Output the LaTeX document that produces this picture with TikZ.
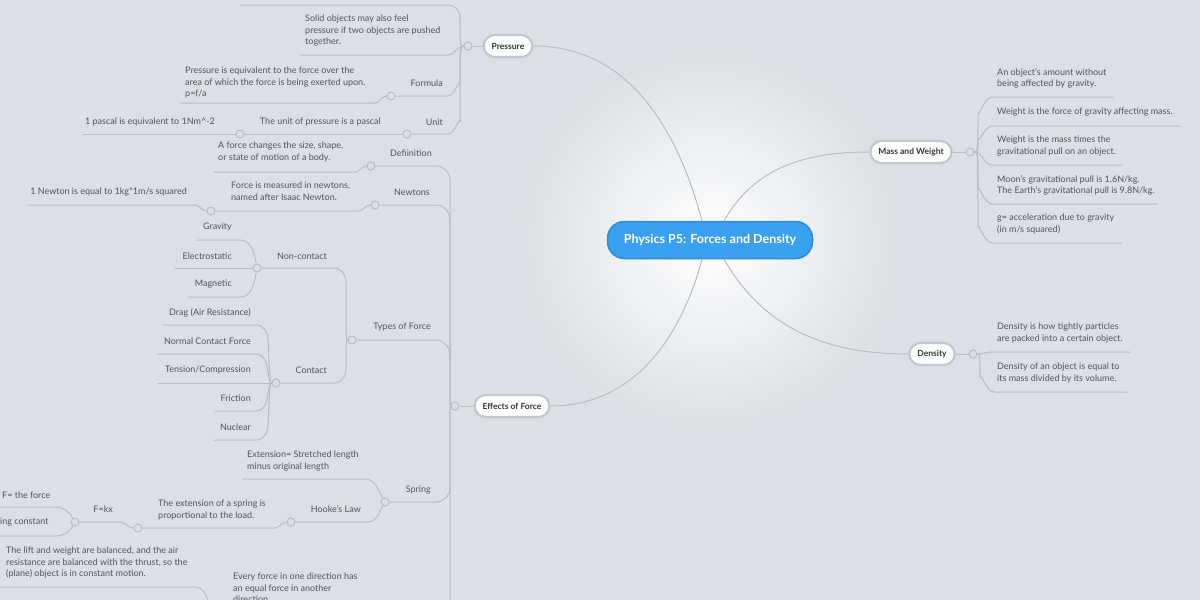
\documentclass[tikz,border=0pt]{standalone}
\usepackage{fontspec}
\setmainfont{Lato}
\begin{document}
\begin{tikzpicture}[x=1pt,y=-1pt,
  lk/.style={draw=lc,line width=1pt},
  jn/.style={circle,draw=lc,fill=bg,line width=1pt,inner sep=0pt,minimum size=8pt},
  tx/.style={font=\fontsize{9}{11.5}\selectfont,text=tc,inner sep=0pt,align=left},
  tr/.style={font=\fontsize{9}{11.5}\selectfont,text=tc,inner sep=0pt,anchor=east},
  topic/.style={rounded corners=11pt,draw=bd,line width=2.2pt,fill=white,font=\fontsize{8.5}{10}\selectfont\bfseries,text=black!80,minimum height=22pt,inner xsep=8pt}]
\definecolor{bg}{HTML}{DCDFE3}
\definecolor{lc}{HTML}{B9BCC0}
\definecolor{tc}{HTML}{505357}
\definecolor{bd}{HTML}{C3C6CA}
\useasboundingbox (0,0) rectangle (1200,600);
\fill[bg] (0,0) rectangle (1200,600);
\shade[inner color=white,outer color=bg] (710,240) circle (190);

% central and topics
\node[rounded corners=17pt,fill={rgb,255:red,58;green,160;blue,240},draw={rgb,255:red,45;green,140;blue,220},line width=1.5pt,minimum width=205pt,minimum height=37pt,text=white,font=\fontsize{12.5}{14}\selectfont\bfseries] (c) at (710,240) {Physics P5: Forces and Density};
\node[topic] (P) at (508,46) {Pressure};
\node[topic] (E) at (512,406) {Effects of Force};
\node[topic] (M) at (911,152) {Mass and Weight};
\node[topic] (D) at (932,354) {Density};
\draw[lk] (c.north) ++(-8,0) coordinate (c1) to[out=105,in=0] (P.east);
\draw[lk] (c.south) ++(-8,0) coordinate (c2) to[out=-105,in=0] (E.east);
\draw[lk] (c.north) ++(14,0) coordinate (c3) to[out=60,in=180] (M.west);
\draw[lk] (c.south) ++(14,0) coordinate (c4) to[out=-60,in=180] (D.west);

% Pressure
\node[jn] (pj) at (468,46) {};
\draw[lk] (P.west) -- (pj);
\draw[lk] (pj) .. controls (460,46) .. (460,17) to[out=90,in=0] (448,5) -- (240,5);
\node[tx,anchor=north west] (p1) at (305,15) {Solid objects may also feel\\pressure if two objects are pushed\\together.};
\draw[lk] (pj) to[out=180,in=0] (448,55) -- (300,55);
\node[tr] (pf) at (443,83) {Formula};
\node[jn] (pfj) at (391,96) {};
\draw[lk] (pj) .. controls (460,46) .. (460,84) to[out=90,in=0] (448,96) -- (pfj);
\node[tx,anchor=north west] (pf1) at (185,67) {Pressure is equivalent to the force over the\\area of which the force is being exerted upon.\\p=f/a};
\draw[lk] (pfj) to[out=180,in=0] (375,103) -- (180,103);
\node[tr] (pu) at (443,122) {Unit};
\node[jn] (puj) at (407,134) {};
\draw[lk] (pj) .. controls (460,46) .. (460,122) to[out=90,in=0] (448,134) -- (puj);
\node[tr] (pu1) at (381,122) {The unit of pressure is a pascal};
\node[jn] (pu1j) at (240,134) {};
\draw[lk] (puj) -- (pu1j);
\node[tr] (pu2) at (215,122) {1 pascal is equivalent to 1Nm\^{}-2};
\draw[lk] (pu1j) -- (83,134);

% Effects of Force
\node[jn] (ej) at (455,406) {};
\draw[lk] (E.west) -- (ej);
\draw[lk] (ej) .. controls (450,406) .. (450,600);
\node[tr] (ed) at (432,153) {Defiinition};
\node[jn] (edj) at (371,166) {};
\draw[lk] (ej) .. controls (450,406) .. (450,180) to[out=90,in=0] (436,166) -- (edj);
\node[tx,anchor=north west] (ed1) at (218,142) {A force changes the size, shape,\\or state of motion of a body.};
\draw[lk] (edj) to[out=180,in=0] (355,172) -- (213,172);
\node[tr] (en) at (430,192) {Newtons};
\node[jn] (enj) at (375,205) {};
\draw[lk] (ej) .. controls (450,406) .. (450,220) to[out=90,in=0] (436,205) -- (enj);
\node[tx,anchor=north west] (en1) at (231,182) {Force is measured in newtons,\\named after Isaac Newton.};
\node[jn] (en1j) at (211,211) {};
\draw[lk] (enj) to[out=180,in=0] (358,211) -- (en1j);
\node[tr] (en2) at (187,192) {1 Newton is equal to 1kg*1m/s squared};
\draw[lk] (en1j) to[out=180,in=0] (195,205) -- (28,205);
\node[tr] (et) at (431,327) {Types of Force};
\node[jn] (etj) at (352,340) {};
\draw[lk] (ej) .. controls (450,406) .. (450,356) to[out=90,in=0] (436,340) -- (etj);
\node[tr] (nc) at (327,256) {Non-contact};
\node[jn] (ncj) at (257,268) {};
\draw[lk] (etj) .. controls (346,340) .. (346,282) to[out=90,in=0] (334,268) -- (ncj);
\node[tr] (g1) at (232,227) {Gravity};
\draw[lk] (ncj) to[out=100,in=0] (240,240) -- (197,240);
\node[tr] (g2) at (232,256) {Electrostatic};
\draw[lk] (ncj) -- (175,268);
\node[tr] (g3) at (232,284) {Magnetic};
\draw[lk] (ncj) to[out=-100,in=0] (240,297) -- (188,297);
\node[tr] (ct) at (327,370) {Contact};
\node[jn] (ctj) at (276,383) {};
\draw[lk] (etj) .. controls (346,340) .. (346,370) to[out=-90,in=0] (334,383) -- (ctj);
\node[tr] (k1) at (251,313) {Drag (Air Resistance)};
\draw[lk] (ctj) .. controls (270,383) .. (268,340) to[out=90,in=0] (256,325) -- (162,325);
\node[tr] (k2) at (251,341) {Normal Contact Force};
\draw[lk] (ctj) .. controls (270,383) .. (267,366) to[out=100,in=0] (256,354) -- (157,354);
\node[tr] (k3) at (251,370) {Tension/Compression};
\draw[lk] (ctj) -- (158,383);
\node[tr] (k4) at (251,398) {Friction};
\draw[lk] (ctj) .. controls (270,383) .. (267,400) to[out=-100,in=0] (256,411) -- (215,411);
\node[tr] (k5) at (251,427) {Nuclear};
\draw[lk] (ctj) .. controls (270,383) .. (268,425) to[out=-90,in=0] (256,440) -- (214,440);
\node[tr] (es) at (431,490) {Spring};
\node[jn] (esj) at (385,502) {};
\draw[lk] (ej) .. controls (450,406) .. (450,488) to[out=-90,in=0] (436,502) -- (esj);
\node[tx,anchor=north west] (es1) at (247,451) {Extension= Stretched length\\minus original length};
\draw[lk] (esj) to[out=120,in=0] (365,479) -- (242,479);
\node[tr] (hk) at (361,509) {Hooke's Law};
\node[jn] (hkj) at (291,522) {};
\draw[lk] (esj) to[out=-120,in=0] (368,522) -- (hkj);
\node[tx,anchor=north west] (hk1) at (158,500) {The extension of a spring is\\proportional to the load.};
\node[jn] (hk1j) at (138,528) {};
\draw[lk] (hkj) to[out=180,in=0] (275,528) -- (hk1j);
\node[tr] (fk) at (113,509) {F=kx};
\node[jn] (fkj) at (75,522) {};
\draw[lk] (hk1j) to[out=180,in=0] (120,522) -- (fkj);
\node[tx,anchor=west] (f1) at (2,495) {F= the force};
\draw[lk] (fkj) to[out=120,in=0] (55,507) -- (0,507);
\node[tx,anchor=west] (f2) at (0,522) {ing constant};
\draw[lk] (fkj) to[out=-120,in=0] (55,536) -- (0,536);
\node[tx,anchor=north west] (b1) at (6,547) {The lift and weight are balanced, and the air\\resistance are balanced with the thrust, so the\\(plane) object is in constant motion.};
\draw[lk] (0,587) -- (195,587) to[out=0,in=110] (208,600);
\node[tx,anchor=north west] (b2) at (233,573) {Every force in one direction has\\an equal force in another\\direction.};

% Mass and Weight
\node[jn] (mj) at (970,152) {};
\draw[lk] (M.east) -- (mj);
\node[tx,anchor=north west] (m1) at (997,68) {An object's amount without\\being affected by gravity.};
\draw[lk] (mj) .. controls (978,152) .. (978,112) to[out=-90,in=180] (992,97) -- (1113,97);
\node[tx,anchor=north west] (m2) at (997,108) {Weight is the force of gravity affecting mass.};
\draw[lk] (mj) .. controls (978,152) .. (978,138) to[out=-90,in=180] (992,126) -- (1180,126);
\node[tx,anchor=north west] (m3) at (997,136) {Weight is the mass times the\\gravitational pull on an object.};
\draw[lk] (mj) to[out=0,in=180] (992,165) -- (1122,165);
\node[tx,anchor=north west] (m4) at (997,175) {Moon's gravitational pull is 1.6N/kg.\\The Earth's gravitational pull is 9.8N/kg.};
\draw[lk] (mj) .. controls (978,152) .. (978,190) to[out=90,in=180] (992,204) -- (1158,204);
\node[tx,anchor=north west] (m5) at (997,214) {g= acceleration due to gravity\\(in m/s squared)};
\draw[lk] (mj) .. controls (978,152) .. (978,228) to[out=90,in=180] (992,243) -- (1122,243);

% Density
\node[jn] (dj) at (973,354) {};
\draw[lk] (D.east) -- (dj);
\node[tx,anchor=north west] (d1) at (997,323) {Density is how tightly particles\\are packed into a certain object.};
\draw[lk] (dj) to[out=0,in=180] (992,352) -- (1130,352);
\node[tx,anchor=north west] (d2) at (997,363) {Density of an object is equal to\\its mass divided by its volume.};
\draw[lk] (dj) .. controls (980,354) .. (980,378) to[out=90,in=180] (994,392) -- (1127,392);
\end{tikzpicture}
\end{document}
